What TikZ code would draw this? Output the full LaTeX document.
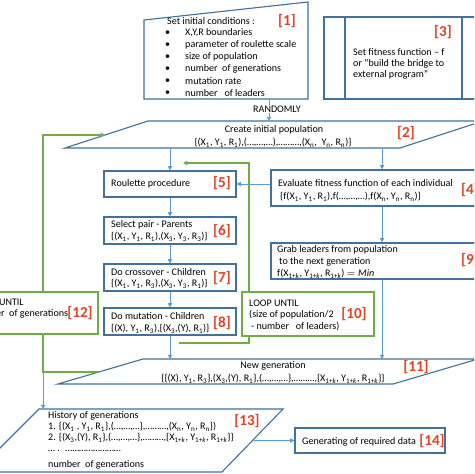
\documentclass[tikz,border=0pt]{standalone}
\usepackage{fontspec}
\setmainfont{Carlito}
\usetikzlibrary{arrows.meta}
\definecolor{boxc}{RGB}{65,113,156}
\definecolor{arrc}{RGB}{91,155,213}
\definecolor{grn}{RGB}{112,173,71}
\definecolor{lab}{RGB}{226,68,38}
\newcommand\subx[1]{\textsubscript{#1}}
\begin{document}
\begin{tikzpicture}[x=0.03cm,y=-0.03cm,
  box/.style={draw=boxc, line width=0.95pt},
  rbox/.style={draw=boxc, line width=0.95pt, rectangle, inner sep=0pt},
  arr/.style={draw=arrc, line width=0.7pt, -{Triangle[length=3.6pt,width=3.6pt]}},
  garr/.style={draw=grn, line width=0.9pt, -{Triangle[length=3.8pt,width=3.8pt]}},
  gline/.style={draw=grn, line width=0.9pt},
  txt/.style={anchor=west, inner sep=0pt, font=\fontsize{8.6}{10}\selectfont},
  ctxt/.style={anchor=center, inner sep=0pt, font=\fontsize{8.6}{10}\selectfont},
  lbl/.style={text=lab, inner sep=0pt, font=\fontsize{13}{15}\selectfont\bfseries}]
\useasboundingbox (0,0) rectangle (474,474);
\clip (0,0) rectangle (474,474);
\fill[white] (0,0) rectangle (474,474);

% ---------- box 1 (manual input)
\draw[box] (144,20) coordinate (b1tl) -- (308,2) -- (308,99) coordinate (b1br) -- (144,99) -- cycle;
\coordinate (b1s) at (269,99);
\node[txt] (t1h) at (167,21) {Set initial conditions :};
\foreach \yy/\tt [count=\i] in {33/{X,Y,R boundaries},45/{parameter of roulette scale},57/{size of population},69/{number\ \ of generations},81/{mutation rate},93/{number\ \ \ of leaders}}{
  \node[txt] (bul\i) at (165,\yy) {\textbullet};
  \node[txt] (it\i) at (185,\yy) {\tt};
}
\node[lbl] (l1) at (287,21) {[1]};

% ---------- box 3 (predefined process)
\draw[box] (324,17) rectangle (483,99);
\draw[box] (345,17) -- (345,99);
\draw[box] (462,17) -- (462,99);
\node[lbl] (l3) at (443,32) {[3]};
\node[txt] (t3a) at (353,52) {Set fitness function – f};
\node[txt] (t3b) at (353,63.5) {or “build the bridge to};
\node[txt] (t3c) at (353,75) {external program”};

% ---------- box 2 (parallelogram)
\draw[box] (148,121) -- (483,121) -- (400,148) -- (65,148) -- cycle;
\coordinate (b2s1) at (170,148);
\coordinate (b2s2) at (382,148);
\coordinate (b2n) at (269,121);
\coordinate (b2w) at (105,135);
\node[ctxt] (t2a) at (274,130) {Create initial population};
\node[ctxt] (t2b) at (273,143) {\{(X\subx{1}, Y\subx{1}, R\subx{1}),(…,…,…),………,(X\subx{n}, \ Y\subx{n}, R\subx{n})\}};
\node[lbl] (l2) at (406,133) {[2]};

% RANDOMLY arrow
\draw[arr] (b1s) -- (b2n);
\node[ctxt, fill=white, inner sep=1pt] (rnd) at (277,109) {RANDOMLY};

% ---------- box 5
\node[rbox, minimum width=3.96cm, minimum height=0.78cm] (b5) at (170,184) {};
\node[txt] (t5) at (111,183.5) {Roulette procedure};
\node[lbl] (l5) at (222,183) {[5]};

% ---------- box 4
\node[rbox, minimum width=6.66cm, minimum height=1.08cm] (b4) at (382,188) {};
\node[txt] (t4a) at (278,183) {Evaluate fitness function of each individual};
\node[txt] (t4b) at (280,197) {\{f(X\subx{1}, Y\subx{1}, R\subx{1}),f(…,…,…),f(X\subx{n}, Y\subx{n}, R\subx{n})\}};
\node[lbl, anchor=west] (l4) at (461,190) {[4]};

% ---------- box 6,7,8
\node[rbox, minimum width=3.96cm, minimum height=0.81cm] (b6) at (170,230.5) {};
\node[txt] (t6a) at (111,225) {Select pair - Parents};
\node[txt] (t6b) at (111,237) {\{(X\subx{1}, Y\subx{1}, R\subx{1}),(X\subx{3}, Y\subx{3}, R\subx{3})\}};
\node[lbl] (l6) at (222,231) {[6]};

\node[rbox, minimum width=3.96cm, minimum height=0.81cm] (b7) at (170,277.5) {};
\node[txt] (t7a) at (111,272) {Do crossover - Children};
\node[txt] (t7b) at (111,284) {\{(X\subx{1}, Y\subx{1}, R\subx{3}),(X\subx{3}, Y\subx{3}, R\subx{1})\}};
\node[lbl] (l7) at (222,278) {[7]};

\node[rbox, minimum width=3.96cm, minimum height=0.81cm] (b8) at (170,321.5) {};
\node[txt] (t8a) at (111,316) {Do mutation - Children};
\node[txt] (t8b) at (111,329) {\{(X), Y\subx{1}, R\subx{3}),\{(X\subx{3},(Y), R\subx{1})\}};
\node[lbl] (l8) at (222,323) {[8]};

% ---------- box 9
\node[rbox, minimum width=6.66cm, minimum height=1.08cm] (b9) at (382,261) {};
\node[txt] (t9a) at (277,250) {Grab leaders from population};
\node[txt] (t9b) at (279,262) {to the next generation};
\node[txt] (t9c) at (277,274) {f(X\subx{1+\textit{k}}, Y\subx{1+\textit{k}}, R\subx{1+\textit{k}}) $=\mathit{Min}$};
\node[lbl, anchor=west] (l9) at (461,260) {[9]};

% ---------- box 10 (green)
\node[rbox, draw=grn, minimum width=3.96cm, minimum height=1.32cm] (b10) at (308,314) {};
\node[txt] (t10a) at (249,303) {LOOP UNTIL};
\node[txt] (t10b) at (249,315) {(size of population/2};
\node[txt] (t10c) at (251,327) {- number \ \ of leaders)};
\node[lbl] (l10) at (354,314) {[10]};

% ---------- box 12 (green)
\node[rbox, draw=grn, minimum width=3.96cm, minimum height=1.26cm] (b12) at (32,313) {};
\node[txt] (t12a) at (-26,302) {LOOP UNTIL};
\node[txt] (t12b) at (-28,313.5) {number\ \ of generations};
\node[lbl] (l12) at (80,313) {[12]};

% ---------- box 11 (parallelogram)
\draw[box] (143,359) -- (478,359) -- (393,384) -- (58,384) -- cycle;
\coordinate (b11n1) at (170,359);
\coordinate (b11n2) at (382,359);
\coordinate (b11w) at (99,372);
\node[ctxt] (t11a) at (273,366) {New generation};
\node[ctxt] (t11b) at (273,379) {\{\{(X), Y\subx{1}, R\subx{3}\},(X\subx{3},(Y), R\subx{1}\},(…,…,…\},………,\{X\subx{1+\textit{k}}, Y\subx{1+\textit{k}}, R\subx{1+\textit{k}}\}\}};
\node[lbl] (l11) at (416,367) {[11]};

% ---------- box 13 (parallelogram)
\draw[box] (39,409) -- (283,409) -- (222,472) -- (-24,472) -- cycle;
\coordinate (b13n) at (43,409);
\coordinate (b13e) at (254,440.5);
\node[txt] (t13a) at (48,416) {History of generations};
\node[txt] (t13b) at (48,427) {1. \{(X\subx{1} , Y\subx{1}, R\subx{1}\},(…,…,…\},………,(X\subx{n}, Y\subx{n}, R\subx{n}\})};
\node[txt] (t13c) at (48,438) {2. \{(X\subx{3},(Y), R\subx{1}\},(…,…,…\},………,\{X\subx{1+\textit{k}}, Y\subx{1+\textit{k}}, R\subx{1+\textit{k}}\}\}};
\node[txt] (t13d) at (48,451) {… . \ ……………………};
\node[txt] (t13e) at (48,465) {number\ \ of generations};
\node[lbl] (l13) at (247,421) {[13]};

% ---------- box 14
\node[rbox, minimum width=4.5cm, minimum height=0.75cm] (b14) at (370,440.5) {};
\node[txt] (t14) at (302,442) {Generating of required data};
\node[lbl] (l14) at (432,441) {[14]};

% ---------- connectors (blue)
\draw[arr] (b2s1) -- (b5.north);
\draw[arr] (b2s2) -- (b4.north);
\draw[arr] (b4.west |- b5.east) -- (b5.east);
\draw[arr] (b5.south) -- (b6.north);
\draw[arr] (b6.south) -- (b7.north);
\draw[arr] (b7.south) -- (b8.north);
\draw[arr] (b8.south) -- (b11n1);
\draw[arr] (b4.south) -- (b9.north);
\draw[arr] (b9.south) -- (b11n2);
\coordinate (gc) at (43,372);
\draw[arr] (gc) -- (b13n);
\draw[arr] (b13e) -- (b14.west);

% ---------- green loops
\draw[gline] (b11w) -- (gc) -- (gc |- b12.south);
\coordinate (gtop) at (43,135);
\draw[garr] (gc |- b12.north) -- (gtop) -- (b2w);
\coordinate (g10a) at (179,343);
\coordinate (g10b) at (249,343);
\coordinate (g10c) at (249,163);
\coordinate (g10d) at (183,163);
\draw[gline] (g10a) -- (g10b) -- (g10b |- b10.south);
\draw[garr] (g10b |- b10.north) -- (g10c) -- (g10d);
\end{tikzpicture}
\end{document}
